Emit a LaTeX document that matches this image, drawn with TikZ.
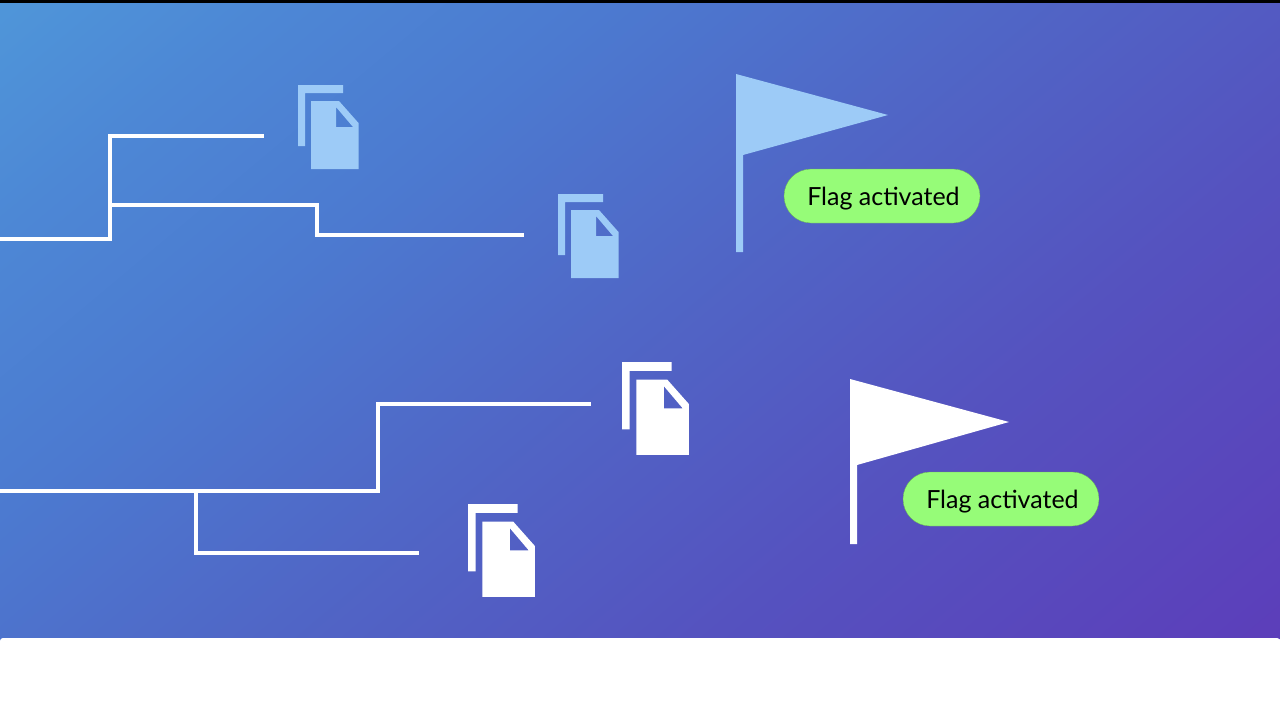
\documentclass[tikz,border=0pt]{standalone}
\usepackage{fontspec}
\setmainfont{Lato}
\definecolor{lightflag}{HTML}{9DCBF7}
\definecolor{pillgreen}{HTML}{96FC78}
\definecolor{panelwhite}{HTML}{FFFFFF}
\definecolor{gA}{RGB}{79,150,217}
\definecolor{gB}{RGB}{77,135,213}
\definecolor{gC}{RGB}{76,122,208}
\definecolor{gD}{RGB}{80,102,198}
\definecolor{gE}{RGB}{85,82,191}
\definecolor{gF}{RGB}{92,62,186}
\pgfdeclarehorizontalshading{bggrad}{100bp}{
  color(0bp)=(gA);
  color(25bp)=(gA);
  color(32bp)=(gB);
  color(40bp)=(gC);
  color(50bp)=(gD);
  color(61bp)=(gE);
  color(75bp)=(gF);
  color(100bp)=(gF)}
\tikzset{
  x=1pt,y=-1pt,
  wire/.style={draw=white,line width=4pt,line join=miter},
  pill/.style={rounded rectangle,fill=pillgreen,draw=pillgreen!70!black,line width=0.3pt,
    minimum width=196pt,minimum height=54pt,inner sep=0pt,text=black,
    text height=19pt,text depth=0pt,
    font=\fontsize{25}{25}\selectfont},
  pics/docicon/.style={code={
    \fill[pic actions] (0,0) -- (45,0) -- (45,8) -- (7,8) -- (7,61) -- (0,61) -- cycle;
    \fill[pic actions,even odd rule]
      (13,16) -- (41,16) -- (60.5,38) -- (60.5,84) -- (13,84) -- cycle
      (38,22) -- (38,42) -- (55,42) -- cycle;
  }}
}
\usetikzlibrary{shapes.misc}
\begin{document}
\begin{tikzpicture}
\useasboundingbox (0,0) rectangle (1280,720);
% background
\begin{scope}
  \clip (0,0) rectangle (1280,720);
  \begin{scope}[transform canvas={rotate=-50}]
    \shade[shading=bggrad] (0,-1600) rectangle (1312,1600);
  \end{scope}
\end{scope}
\fill[black] (0,0) rectangle (1280,3);
\fill[panelwhite,rounded corners=3pt] (0,638) rectangle (1280,725);
% upper tree
\coordinate (a0) at (0,239);
\coordinate (a1) at (110,239);
\coordinate (a2) at (110,136);
\coordinate (a3) at (264,136);
\coordinate (b0) at (110,205);
\coordinate (b1) at (317,205);
\coordinate (b2) at (317,235);
\coordinate (b3) at (524,235);
\draw[wire] (a0) -- (a1) -- (a2) -- (a3);
\draw[wire] (b0) -- (b1) -- (b2) -- (b3);
% lower tree
\coordinate (c0) at (0,490.5);
\coordinate (c1) at (378,490.5);
\coordinate (c2) at (378,403.5);
\coordinate (c3) at (591,403.5);
\coordinate (d0) at (195.5,490.5);
\coordinate (d1) at (195.5,552.5);
\coordinate (d2) at (419,552.5);
\draw[wire] (c0) -- (c1) -- (c2) -- (c3);
\draw[wire] (d0) -- (d1) -- (d2);
% documents
\pic[fill=lightflag] at (298,85) {docicon};
\pic[fill=lightflag] at (558,194) {docicon};
\pic[fill=white,scale=1.105] at (622,362) {docicon};
\pic[fill=white,scale=1.105] at (468,504) {docicon};
% flags
\fill[lightflag] (736,74) -- (888,115) -- (743,155) -- (743,252) -- (736,252) -- cycle;
\fill[white] (850,379) -- (1009,422) -- (857,465) -- (857,544) -- (850,544) -- cycle;
% labels
\node[pill] (flagA) at (882,196) {\kern3pt Flag activated};
\node[pill] (flagB) at (1001,499) {\kern3pt Flag activated};
\end{tikzpicture}
\end{document}
